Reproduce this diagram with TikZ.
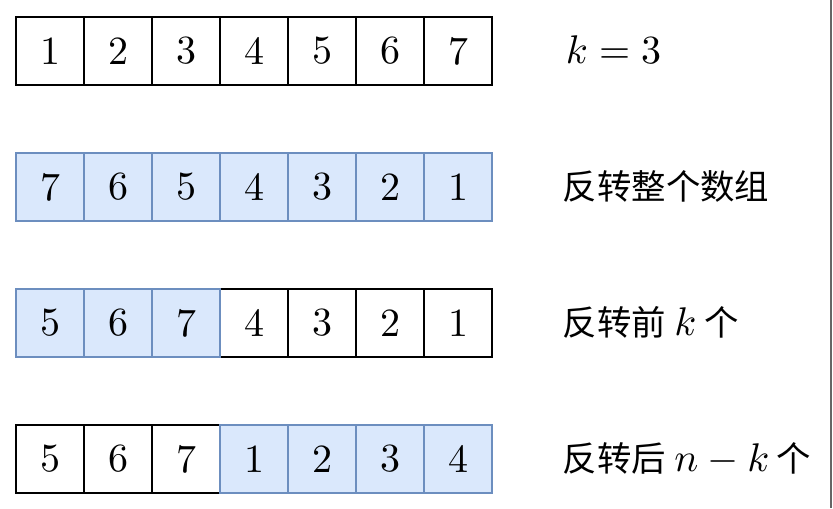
\documentclass[tikz,border=0pt]{standalone}
\usepackage{fontspec}
\newfontfamily\cjk{Noto Sans CJK SC}
\definecolor{bfill}{HTML}{DAE8FC}
\definecolor{bdraw}{HTML}{6C8EBF}
\newcommand{\mth}[1]{\hspace{2.1pt}{\fontsize{10.2}{12}\selectfont$#1$}\hspace{1.9pt}}
\tikzset{
  cell/.style={draw=black, fill=white, line width=0.35pt, minimum width=17pt, minimum height=17pt, inner sep=0pt, font=\fontsize{10}{12}\selectfont},
  bcell/.style={cell, draw=bdraw, fill=bfill},
  lab/.style={anchor=base west, inner sep=0pt, font=\fontsize{8.6}{10}\selectfont\cjk},
  mlab/.style={anchor=base west, inner sep=0pt, font=\fontsize{10}{12}\selectfont}
}
\begin{document}
\begin{tikzpicture}[x=0.25pt,y=-0.25pt]
\useasboundingbox (0,0) rectangle (833,508);
% row 1
\foreach \v [count=\i from 0] in {1,2,3,4,5,6,7}
  \node[cell] (a\i) at (50+68*\i,51) {\v};
% row 2
\foreach \v [count=\i from 0] in {7,6,5,4,3,2,1}
  \node[bcell] (b\i) at (50+68*\i,187) {\v};
% row 3
\foreach \v [count=\i from 3] in {4,3,2,1}
  \node[cell] (c\i) at (50+68*\i,323) {\v};
\foreach \v [count=\i from 0] in {5,6,7}
  \node[bcell] (c\i) at (50+68*\i,323) {\v};
% row 4
\foreach \v [count=\i from 0] in {5,6,7}
  \node[cell] (d\i) at (50+68*\i,459) {\v};
\foreach \v [count=\i from 3] in {1,2,3,4}
  \node[bcell] (d\i) at (50+68*\i,459) {\v};
% labels
\node[mlab] (l1) at (565,63) {$k=3$};
\node[lab] (l2) at (562,199) {反转整个数组};
\node[lab] (l3) at (562,335) {反转前\mth{k}个};
\node[lab] (l4) at (562,471) {反转后\mth{n-k}个};
% right border
\draw[black!60, line width=0.35pt] (831,0) -- (831,508);
\end{tikzpicture}
\end{document}
